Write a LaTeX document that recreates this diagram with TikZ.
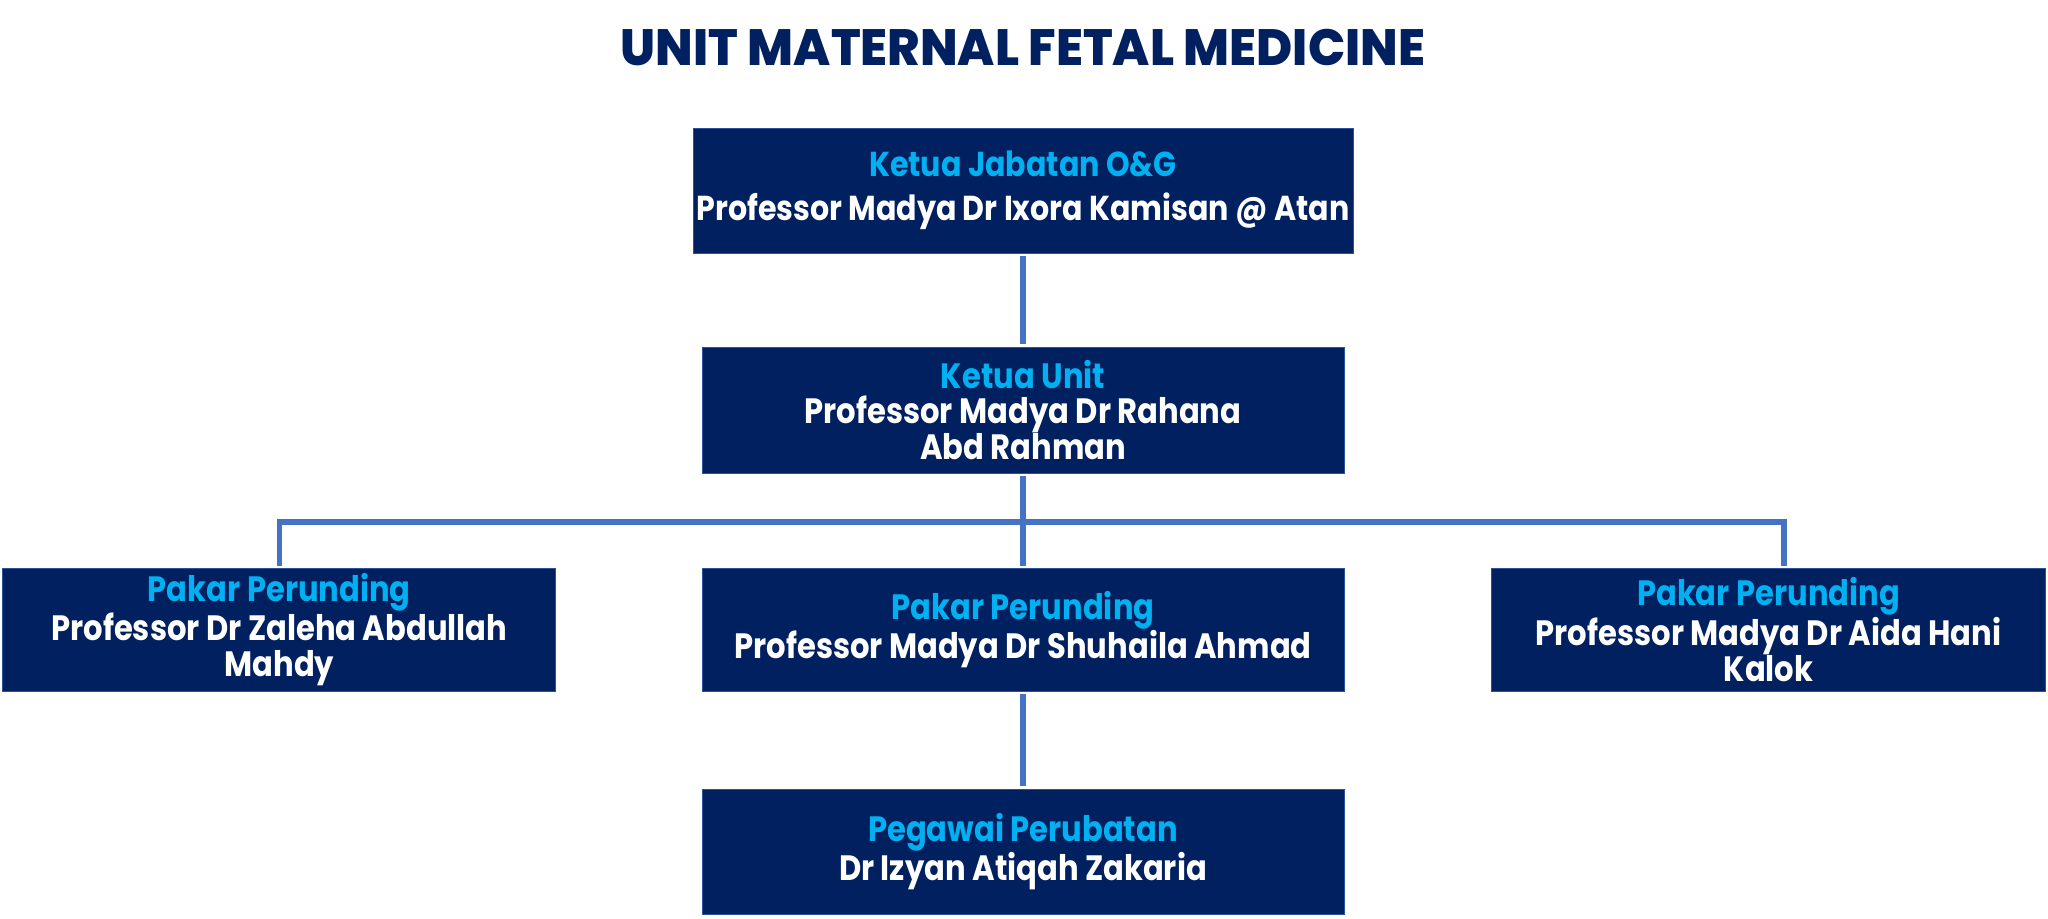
\documentclass[tikz,border=0pt]{standalone}
\usepackage{fontspec}
\setmainfont{Poppins}
\newfontfamily\boxfont[FakeStretch=0.87]{Poppins Bold}
\newfontfamily\titlefont[FakeStretch=0.965]{Poppins ExtraBold}
\definecolor{navy}{HTML}{002060}
\definecolor{lblue}{HTML}{00B0F0}
\definecolor{conn}{HTML}{4472C4}
\tikzset{
  orgbox/.style={fill=navy, draw=conn!60!navy, line width=0.4pt, inner sep=0pt, align=center,
    text=white, font=\boxfont\fontsize{17.6}{17.8}\selectfont},
  link/.style={draw=conn, line width=2.7pt}
}
\begin{document}
\begin{tikzpicture}[x=0.5pt,y=-0.5pt]
\useasboundingbox (0,0) rectangle (2048,918);
\node[font=\titlefont\fontsize{25.5}{26}\selectfont, text=navy] (title) at (1023,48) {UNIT MATERNAL FETAL MEDICINE};
\node[orgbox, minimum width=330pt, minimum height=62.5pt, font=\boxfont\fontsize{17.3}{22}\selectfont] (b1) at (1023,190.5)
  {\textcolor{lblue}{Ketua Jabatan O\&G}\\Professor Madya Dr Ixora Kamisan @ Atan};
\node[orgbox, minimum width=321pt, minimum height=63pt] (b2) at (1023,410)
  {\textcolor{lblue}{Ketua Unit}\\Professor Madya Dr Rahana\\Abd Rahman};
\node[orgbox, minimum width=321pt, minimum height=61.5pt] (b3) at (1023,629.5)
  {\textcolor{lblue}{Pakar Perunding}\\Professor Madya Dr Shuhaila Ahmad};
\node[orgbox, minimum width=276.5pt, minimum height=61.5pt] (bl) at (279.3,629.5)
  {\textcolor{lblue}{Pakar Perunding}\\Professor Dr Zaleha Abdullah\\Mahdy};
\node[orgbox, minimum width=277pt, minimum height=61.5pt] (br) at (1768.5,629.5)
  {\textcolor{lblue}{Pakar Perunding}\\Professor Madya Dr Aida Hani\\Kalok};
\node[orgbox, minimum width=321pt, minimum height=62.5pt] (b4) at (1023,851.5)
  {\textcolor{lblue}{Pegawai Perubatan}\\Dr Izyan Atiqah Zakaria};
\coordinate (barL) at (279.3,522);
\coordinate (barR) at (1784,522);
\draw[link] ([yshift=-1.5pt]b1.south) -- ([yshift=1.5pt]b2.north);
\draw[link] ([yshift=-1.5pt]b2.south) -- ([yshift=1pt]b3.north);
\draw[link] ([yshift=-1.5pt]b3.south) -- ([yshift=1.5pt]b4.north);
\draw[link, line cap=rect] (barL) -- (barR);
\draw[link] (barL) -- ([yshift=1pt]barL |- bl.north);
\draw[link] (barR) -- ([yshift=1pt]barR |- br.north);
\end{tikzpicture}
\end{document}
